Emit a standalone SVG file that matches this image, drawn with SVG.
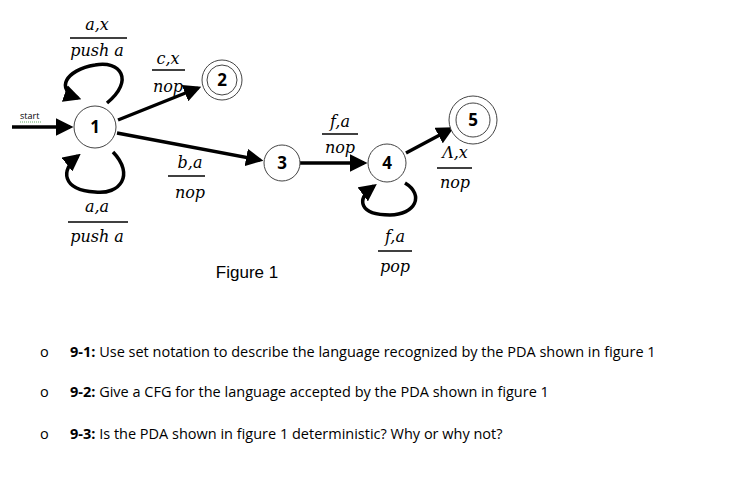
<svg xmlns="http://www.w3.org/2000/svg" width="738" height="491" viewBox="0 0 738 491">
<style>
.n{fill:#fff;stroke:#444;stroke-width:1}
.nt{font-family:"Open Sans",sans-serif;font-weight:bold;font-size:17px;text-anchor:middle}
.e{fill:none;stroke:#000;stroke-width:3.5;marker-end:url(#a)}
.l{font-family:"DejaVu Serif",serif;font-style:italic;font-size:16px;text-anchor:middle}
.ln{stroke:#000;stroke-width:1.5}
.q{font-family:"Open Sans",sans-serif;font-size:14.5px}
</style>
<defs><marker id="a" markerWidth="5" markerHeight="5" refX="4" refY="2.5" orient="auto"><path d="M0,0L5,2.5L0,5Z"/></marker></defs>
<rect width="738" height="491" fill="#fff"/>
<g id="edges">
<path class="e" d="M12,127H70"/>
<path class="e" d="M107,103C135,80 120,60 95,65C65,70 55,90 78,98"/>
<path class="e" d="M113,152C135,175 120,195 95,192C62,190 60,170 78,156"/>
<path class="e" d="M118,120L198,88"/>
<path class="e" d="M117,133L260,160"/>
<path class="e" d="M300,163H364"/>
<path class="e" d="M406,153L451,129"/>
<path class="e" d="M405,183C425,195 415,215 390,215C360,215 355,200 374,186"/>
</g>
<text x="20" y="119" font-family="Open Sans,sans-serif" font-size="9">start</text>
<path d="M20,122h22" stroke="#6a6" stroke-width="1" stroke-dasharray="1,1"/>
<g id="n1"><circle class="n" cx="95" cy="127" r="21"/><text class="nt" x="95" y="133">1</text></g>
<g id="n2"><circle class="n" cx="222" cy="80" r="20"/><circle class="n" cx="222" cy="80" r="15"/><text class="nt" x="222" y="86">2</text></g>
<g id="n3"><circle class="n" cx="282" cy="163" r="18"/><text class="nt" x="282" y="169">3</text></g>
<g id="n4"><circle class="n" cx="387" cy="163" r="19"/><text class="nt" x="387" y="169">4</text></g>
<g id="n5"><circle class="n" cx="473" cy="120" r="24"/><circle class="n" cx="473" cy="120" r="17"/><text class="nt" x="473" y="126">5</text></g>
<g id="labels">
<text class="l" x="97" y="30">a,x</text><path class="ln" d="M70,38H127"/><text class="l" x="97" y="56">push a</text>
<text class="l" x="168" y="64">c,x</text><path class="ln" d="M152,70H185"/><text class="l" x="168" y="92">nop</text>
<text class="l" x="190" y="168">b,a</text><path class="ln" d="M168,176H205"/><text class="l" x="190" y="198">nop</text>
<text class="l" x="97" y="212">a,a</text><path class="ln" d="M68,222H128"/><text class="l" x="97" y="242">push a</text>
<text class="l" x="340" y="127">f,a</text><path class="ln" d="M322,134H358"/><text class="l" x="340" y="153">nop</text>
<text class="l" x="455" y="158">Λ,x</text><path class="ln" d="M437,168H472"/><text class="l" x="455" y="188">nop</text>
<text class="l" x="395" y="242">f,a</text><path class="ln" d="M378,251H412"/><text class="l" x="395" y="272">pop</text>
<text x="247" y="278" font-family="Liberation Sans,sans-serif" font-size="17" text-anchor="middle">Figure 1</text>
</g>
<g class="q">
<text x="40" y="357">o</text><text x="70" y="357"><tspan font-weight="bold">9-1:</tspan> Use set notation to describe the language recognized by the PDA shown in figure 1</text>
<text x="40" y="397">o</text><text x="70" y="397"><tspan font-weight="bold">9-2:</tspan> Give a CFG for the language accepted by the PDA shown in figure 1</text>
<text x="40" y="439">o</text><text x="70" y="439"><tspan font-weight="bold">9-3:</tspan> Is the PDA shown in figure 1 deterministic? Why or why not?</text>
</g>
</svg>
